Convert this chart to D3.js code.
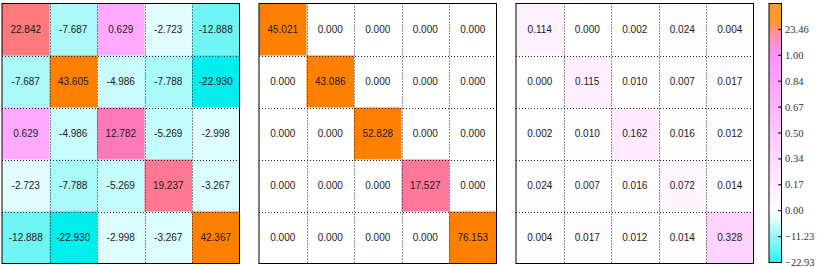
<!DOCTYPE html>
<html>
<head>
<meta charset="utf-8">
<script src="https://cdn.jsdelivr.net/npm/d3@7"></script>
<style>
  body { margin: 0; background: #fff; }
  svg { display: block; }
  .cell-label { font-family: "Liberation Sans", Arial, sans-serif; font-size: 10px; fill: #1a1a1a; }
  .cb-label { font-family: "Liberation Serif", "DejaVu Serif", serif; font-size: 10.5px; fill: #333; }
</style>
</head>
<body>
<svg id="chart" width="818" height="268"></svg>
<script>
// matrices shown left to right
const matrixA = [
  [22.842, -7.687, 0.629, -2.723, -12.888],
  [-7.687, 43.605, -4.986, -7.788, -22.930],
  [0.629, -4.986, 12.782, -5.269, -2.998],
  [-2.723, -7.788, -5.269, 19.237, -3.267],
  [-12.888, -22.930, -2.998, -3.267, 42.367]
];
const matrixB = [
  [45.021, 0, 0, 0, 0],
  [0, 43.086, 0, 0, 0],
  [0, 0, 52.828, 0, 0],
  [0, 0, 0, 17.527, 0],
  [0, 0, 0, 0, 76.153]
];
const matrixC = [
  [0.114, 0.000, 0.002, 0.024, 0.004],
  [0.000, 0.115, 0.010, 0.007, 0.017],
  [0.002, 0.010, 0.162, 0.016, 0.012],
  [0.024, 0.007, 0.016, 0.072, 0.014],
  [0.004, 0.017, 0.012, 0.014, 0.328]
];
// colorbar boundaries (bottom -> top), top one unlabeled
const cbarTicks = [-22.93, -11.23, 0.00, 0.17, 0.34, 0.50, 0.67, 0.84, 1.00, 23.46];
const cbarTop = 76.153;

const color = d3.scaleLinear()
  .domain([-22.93, 0, 1, 23.46, 36])
  .range(["#00eeee", "#ffffff", "#ff78ff", "#ff7878", "#ff8000"])
  .clamp(true);

const svg = d3.select("#chart");
const plotTop = 3.5, plotBot = 263.5;
const panelW = 237.5;
const panels = [
  {data: matrixA, x0: 2},
  {data: matrixB, x0: 259},
  {data: matrixC, x0: 516}
];
const idx = d3.range(5);

panels.forEach(p => {
  const x = d3.scaleBand().domain(idx).range([p.x0, p.x0 + panelW]);
  const y = d3.scaleBand().domain(idx).range([plotTop, plotBot]);
  const g = svg.append("g");
  const cells = p.data.flatMap((row, r) => row.map((v, c) => ({r, c, v})));

  g.selectAll("rect.cell").data(cells).join("rect")
    .attr("class", "cell")
    .attr("x", d => x(d.c)).attr("y", d => y(d.r))
    .attr("width", x.bandwidth() + 0.5).attr("height", y.bandwidth() + 0.5)
    .attr("fill", d => color(d.v));

  g.selectAll("text.cell-label").data(cells).join("text")
    .attr("class", "cell-label")
    .attr("x", d => x(d.c) + x.bandwidth() / 2)
    .attr("y", d => y(d.r) + y.bandwidth() / 2)
    .attr("text-anchor", "middle")
    .attr("dominant-baseline", "central")
    .text(d => d3.format(".3f")(d.v).replace("\u2212", "-"));

  // dotted grid
  g.selectAll("line.vg").data(idx.slice(1)).join("line")
    .attr("x1", d => Math.round(x(d)) + 0.5).attr("x2", d => Math.round(x(d)) + 0.5)
    .attr("y1", plotTop).attr("y2", plotBot)
    .attr("stroke", "#222").attr("stroke-width", 1).attr("stroke-dasharray", "1,2");
  g.selectAll("line.hg").data(idx.slice(1)).join("line")
    .attr("y1", d => Math.round(y(d)) + 0.5).attr("y2", d => Math.round(y(d)) + 0.5)
    .attr("x1", p.x0).attr("x2", p.x0 + panelW)
    .attr("stroke", "#222").attr("stroke-width", 1).attr("stroke-dasharray", "1,2");

  g.append("rect")
    .attr("x", p.x0).attr("y", plotTop).attr("width", panelW).attr("height", plotBot - plotTop)
    .attr("fill", "none").attr("stroke", "#000").attr("stroke-width", 1);
});

// colorbar
const cbX = 769, cbW = 12.5, cbTop = 3.5, cbBot = 262.5;
const cbVals = cbarTicks.concat([cbarTop]);
const pos = d3.scaleLinear()
  .domain(cbVals)
  .range(cbVals.map((_, i) => cbBot - i * (cbBot - cbTop) / (cbVals.length - 1)));

const grad = svg.append("defs").append("linearGradient")
  .attr("id", "cbgrad").attr("x1", 0).attr("y1", 1).attr("x2", 0).attr("y2", 0);
d3.range(0, 1.0001, 0.01).forEach(t => {
  const yPix = cbBot - t * (cbBot - cbTop);
  grad.append("stop").attr("offset", t).attr("stop-color", color(pos.invert(yPix)));
});

svg.append("rect")
  .attr("x", cbX).attr("y", cbTop).attr("width", cbW).attr("height", cbBot - cbTop)
  .attr("fill", "url(#cbgrad)").attr("opacity", 0.82);
svg.append("rect")
  .attr("x", cbX).attr("y", cbTop).attr("width", cbW).attr("height", cbBot - cbTop)
  .attr("fill", "none").attr("stroke", "#000").attr("stroke-width", 1);

const fmt = v => d3.format(".2f")(v).replace("-", "\u2212");
const ticks = svg.append("g");
ticks.selectAll("line").data(cbarTicks).join("line")
  .attr("x1", cbX + cbW - 3.5).attr("x2", cbX + cbW)
  .attr("y1", d => pos(d)).attr("y2", d => pos(d))
  .attr("stroke", "#000").attr("stroke-width", 1);
ticks.selectAll("text").data(cbarTicks).join("text")
  .attr("class", "cb-label")
  .attr("x", cbX + cbW + 3.5)
  .attr("y", d => pos(d))
  .attr("dominant-baseline", "central")
  .text(fmt);
</script>
</body>
</html>
